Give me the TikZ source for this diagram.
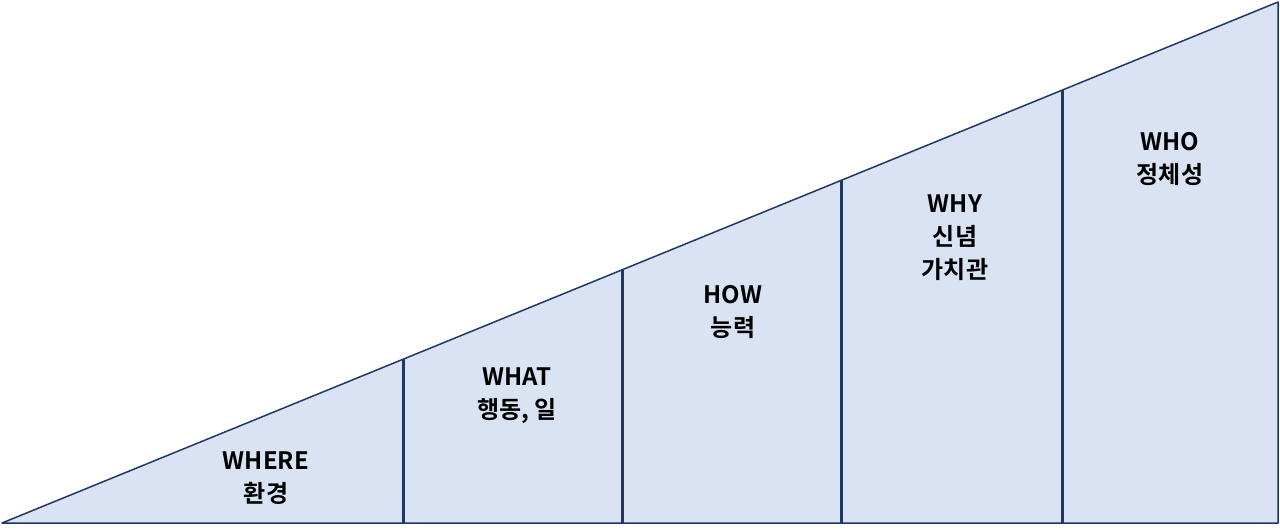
\documentclass[tikz,border=0pt]{standalone}
\usepackage{fontspec}
\newfontfamily\kr{Noto Sans CJK KR}[BoldFont={* Bold}]
\definecolor{fillb}{HTML}{DAE3F3}
\definecolor{navy}{HTML}{203864}
\begin{document}
\begin{tikzpicture}[x=1pt,y=-1pt,
  lbl/.style={font=\kr\bfseries\fontsize{24}{33}\selectfont,align=center,inner sep=0pt},
  div/.style={draw=navy,line width=3pt}]
\useasboundingbox (0,0) rectangle (1280,530);
\coordinate (A) at (2,523);
\coordinate (B) at (1278,2);
\coordinate (C) at (1278,523);
\fill[fillb] (A) -- (B) -- (C) -- cycle;
\foreach \x/\n in {403/a,622/b,841/c,1062/d}{
  \pgfmathsetmacro\yy{523-(\x-2)/1276*521}
  \coordinate (t\n) at (\x,\yy);
  \coordinate (b\n) at (\x,523);
  \draw[div] (t\n) -- (b\n);
}
\draw[navy,line width=1.5pt,line join=round] (A) -- (B) -- (C) -- cycle;
\node[lbl] (where) at (266,478) {WHERE\\환경};
\node[lbl] (what) at (517,396) {WHAT\\행동, 일};
\node[lbl] (how) at (733,312) {HOW\\능력};
\node[lbl] (why) at (955,238) {WHY\\신념\\가치관};
\node[lbl] (who) at (1170,159) {WHO\\정체성};
\end{tikzpicture}
\end{document}
